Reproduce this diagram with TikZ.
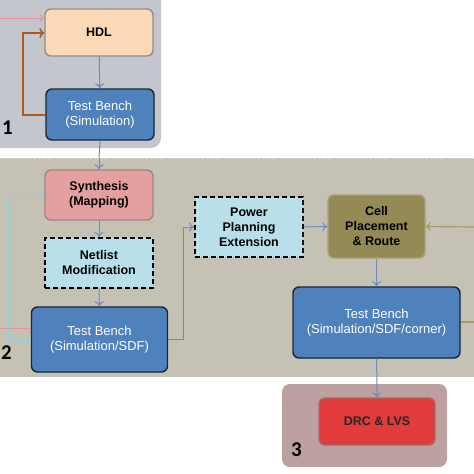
\documentclass[tikz,border=0pt]{standalone}
\usepackage{fontspec}
\setmainfont{Liberation Sans}
\newfontfamily\numfont{Carlito}
\usetikzlibrary{arrows.meta}
\definecolor{regA}{HTML}{C3C6CD}
\definecolor{regB}{HTML}{C6C1B5}
\definecolor{regC}{HTML}{BDA0A0}
\definecolor{hdlfill}{HTML}{FCD9B6}
\definecolor{tbfill}{HTML}{4F81BD}
\definecolor{tbdraw}{HTML}{1C2633}
\definecolor{synfill}{HTML}{E4A0A0}
\definecolor{synline}{HTML}{9C8585}
\definecolor{ltblue}{HTML}{B8DFEA}
\definecolor{cellfill}{HTML}{948A55}
\definecolor{cellline}{HTML}{A8A078}
\definecolor{drcfill}{HTML}{E23B3B}
\definecolor{drcline}{HTML}{A86A6A}
\definecolor{flow}{HTML}{6A8DBE}
\definecolor{brownl}{HTML}{B0581C}
\definecolor{pinkl}{HTML}{E89494}
\definecolor{cyanl}{HTML}{8ED0E2}
\definecolor{olivel}{HTML}{A89C62}
\definecolor{grayline}{HTML}{8E8E8E}
\tikzset{
  box/.style={rounded corners=6pt, line width=1.4pt, align=center, font=\fontsize{13}{15.5}\selectfont, inner sep=0pt},
  tbbox/.style={box, fill=tbfill, draw=tbdraw, text=white},
  dbox/.style={align=center, font=\bfseries\fontsize{12.5}{15}\selectfont, fill=ltblue, draw=black, line width=2pt, dash pattern=on 5pt off 3pt, inner sep=0pt},
  flowarr/.style={draw=flow, line width=1pt, -{To[length=5pt,width=9pt]}},
  num/.style={font=\numfont\bfseries\fontsize{21}{21}\selectfont, anchor=base west, inner sep=0pt}
}
\begin{document}
\begin{tikzpicture}[x=1pt,y=-1pt]
\useasboundingbox (0,0) rectangle (474,474);
\fill[white] (0,0) rectangle (474,474);
% regions
\fill[regA, rounded corners=10pt] (-20,-20) rectangle (161,148);
\fill[regB] (-5,158) rectangle (480,377);
\draw[white, line width=0.8pt, dotted, opacity=0.7] (0,158) -- (474,158);
\draw[white, line width=0.8pt, dotted, opacity=0.7] (0,377) -- (474,377);
\fill[regC, rounded corners=8pt] (282,384) rectangle (447,467);
% nodes
\node[box, fill=hdlfill, draw=grayline, minimum width=108pt, minimum height=47pt, font=\bfseries\fontsize{12.5}{15}\selectfont] (hdl) at (99,32.5) {HDL};
\node[tbbox, minimum width=108pt, minimum height=51pt] (tb1) at (100,114.5) {Test Bench\\(Simulation)};
\node[box, fill=synfill, draw=synline, minimum width=108pt, minimum height=50pt, font=\bfseries\fontsize{12.5}{15}\selectfont] (syn) at (99,195) {Synthesis\\(Mapping)};
\node[dbox, minimum width=108pt, minimum height=50pt] (net) at (99,263) {Netlist\\Modification};
\node[tbbox, minimum width=136pt, minimum height=65pt] (tb2) at (99.5,339.5) {Test Bench\\(Simulation/SDF)};
\node[dbox, minimum width=108pt, minimum height=60pt] (ppe) at (249,227) {Power\\Planning\\Extension};
\node[box, fill=cellfill, draw=cellline, minimum width=97pt, minimum height=63pt, font=\bfseries\fontsize{12.5}{15}\selectfont] (cell) at (376.5,226.5) {Cell\\Placement\\\& Route};
\node[tbbox, minimum width=167pt, minimum height=71pt] (tb3) at (376.5,322.5) {Test Bench\\(Simulation/SDF/corner)};
\node[box, fill=drcfill, draw=drcline, minimum width=116pt, minimum height=47pt, text=black!85, font=\bfseries\fontsize{12.5}{15}\selectfont] (drc) at (377,421.5) {DRC \& LVS};
% labels
\node[num] (n1) at (2,134) {1};
\node[num] (n2) at (1,359) {2};
\node[num] (n3) at (291,456) {3};
% coordinates for free ends
\coordinate (pinkA) at (0,18);
\coordinate (pinkB) at (0,328);
\coordinate (oliveA) at (474,227);
\coordinate (oliveB) at (474,322);
% connectors
\draw[flowarr] (hdl) -- (tb1);
\draw[flow, line width=1pt] (tb1.south) -- (99,158);
\draw[flowarr] (99,158) -- (syn.north);
\draw[flowarr] (syn) -- (net);
\draw[flowarr] (net) -- (tb2);
\draw[flowarr] (tb2.east) -- ++(15,0) |- (ppe.west);
\draw[flowarr] (ppe) -- (cell);
\draw[flowarr] (cell) -- (tb3);
\draw[flowarr] (tb3) -- (drc);
\draw[brownl, line width=1.6pt, -{To[length=5pt,width=10pt]}] (tb1.west |- 0,115) -| (23,33) -- (hdl.west |- 0,33);
\draw[pinkl, line width=1pt, -{To[length=5pt,width=9pt]}] (pinkA) -- (hdl.west |- pinkA);
\draw[pinkl, line width=1pt] (pinkB) -- (tb2.west |- pinkB);
\draw[cyanl, line width=1pt, -{To[length=5pt,width=9pt]}] (tb2.west |- 0,340) -| (8,195) -- (syn.west);
\draw[olivel, line width=1.2pt, -{To[length=5pt,width=9pt]}] (oliveA) -- (cell.east);
\draw[olivel, line width=1.2pt] (tb3.east |- oliveB) -- (oliveB);
\end{tikzpicture}
\end{document}
